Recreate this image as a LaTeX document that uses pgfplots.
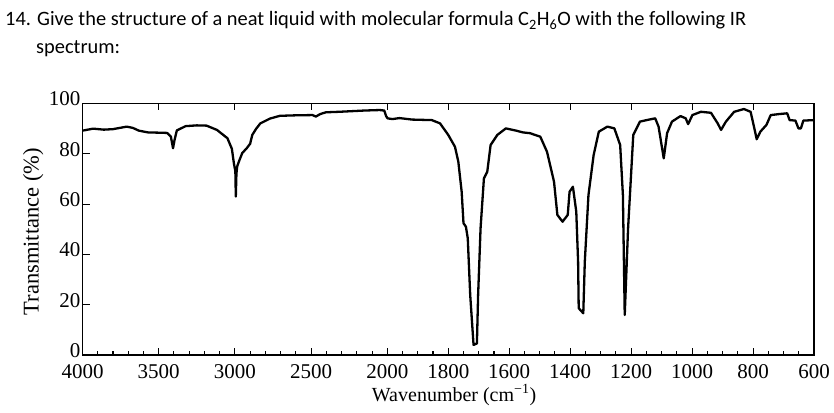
\documentclass[border=0pt]{standalone}
\usepackage{fontspec}
\setmainfont{Liberation Serif}
\newfontfamily\calibri{Carlito}
\usepackage{pgfplots}
\pgfplotsset{compat=1.18}
\pgfplotstableread{
nu T
4000 89.2
3930 90.0
3860 89.6
3800 89.8
3710 90.8
3670 90.3
3630 89.2
3570 88.5
3500 88.4
3445 88.3
3420 86.8
3406 82.2
3396 85.5
3381 89.3
3323 91.0
3250 91.3
3186 91.2
3118 89.5
3049 86.2
3020 82.0
3006 76.0
2997 73.0
2994 63.0
2990 72.0
2985 75.0
2970 77.5
2951 80.4
2925 82.0
2900 84.0
2886 87.5
2860 90.0
2833 92.1
2770 94.0
2705 95.1
2600 95.3
2491 95.4
2469 94.8
2440 95.8
2403 96.5
2316 96.7
2150 97.2
2050 97.4
2020 97.2
2008 95.0
1999 94.1
1983 93.8
1960 94.2
1918 93.6
1854 93.4
1827 92.1
1800 87.5
1778 82.8
1767 76.9
1756 64.9
1750 52.4
1742 51.0
1736 46.4
1728 23.9
1717 4.0
1706 4.6
1702 23.9
1694 50.4
1683 70.2
1672 72.9
1661 83.5
1639 87.5
1611 90.1
1577 89.2
1555 88.5
1532 88.2
1498 86.8
1476 80.8
1453 68.9
1442 55.7
1425 53.0
1408 55.7
1402 64.9
1391 66.9
1380 57.0
1374 37.1
1372 18.6
1357 16.6
1352 37.1
1340 63.6
1323 79.5
1306 88.8
1278 90.8
1255 90.1
1236 83.5
1227 63.6
1221 15.9
1210 50.4
1193 87.5
1171 92.8
1149 93.4
1121 94.1
1110 90.8
1093 78.2
1082 88.2
1066 92.8
1038 95.0
1021 94.1
1013 91.8
999 95.4
971 96.7
938 96.3
916 92.1
905 89.5
889 92.8
862 96.7
830 97.8
808 96.7
797 90.8
788 85.8
776 88.8
756 91.5
742 95.4
714 95.8
688 96.1
680 93.4
661 93.2
651 90.1
643 90.1
635 93.2
600 93.4
}\spectrum
\pgfplotsset{
  irbase/.style={
    at={(82.5pt,57pt)}, anchor=south west,
    scale only axis, width=731.5pt, height=251.5pt,
    x coord trafo/.code={\pgfmathparse{##1>=2000 ? 4000-##1 : 6000-2*##1}},
    xmin=4000, xmax=600, ymin=0, ymax=100,
    tick align=inside,
    major tick length=7pt, minor tick length=4pt,
    tick style={line width=1.1pt, black},
    axis line style={line width=1.3pt},
  }
}
\begin{document}
\begin{tikzpicture}
\path (0pt,0pt) rectangle (834pt,412pt);
\node[anchor=base west, inner sep=0pt, font=\calibri\fontsize{20.4}{24}\selectfont] at (5pt,386pt) {14. Give the structure of a neat liquid with molecular formula C\textsubscript{2}H\textsubscript{6}O with the following IR};
\node[anchor=base west, inner sep=0pt, font=\calibri\fontsize{20.4}{24}\selectfont] at (36pt,358pt) {spectrum:};
\begin{axis}[irbase,
  xtick pos=left, ytick pos=left,
  xtick={4000,3500,3000,2500,2000,1800,1600,1400,1200,1000,800,600},
  xticklabels={4000,3500,3000,2500,2000,1800,1600,1400,1200,1000,800,600},
  minor xtick={3900,3800,3700,3600,3400,3300,3200,3100,2900,2800,2700,2600,2400,2300,2200,2100,1950,1900,1850,1750,1700,1650,1550,1500,1450,1350,1300,1250,1150,1100,1050,950,900,850,750,700,650},
  ytick={0,20,40,60,80,100},
  /pgf/number format/assume math mode=true,
  every tick label/.append style={font=\fontsize{21}{21}\selectfont},
  yticklabel style={inner sep=0pt, xshift=-2pt, yshift=4.5pt},
  xticklabel style={inner sep=0pt, yshift=-9pt},
  xlabel={Wavenumber (cm\textsuperscript{−1})},
  ylabel={Transmittance (\%)},
  every axis x label/.style={at={(axis description cs:0.508,-0.16)}, anchor=center, font=\fontsize{20}{22}\selectfont},
  every axis y label/.style={at={(axis description cs:-0.0675,0.49)}, rotate=90, anchor=center, font=\fontsize{22.5}{23}\selectfont},
]
\addplot[black, line width=2.3pt, line join=round, line cap=round] table[x=nu, y=T] {\spectrum};
\end{axis}
\begin{axis}[irbase,
  xtick pos=right, ytick=\empty,
  xtick={3500,3000,2500,2000,1800,1600,1400,1200,1000,800},
  xticklabels={},
]
\end{axis}
\end{tikzpicture}
\end{document}
